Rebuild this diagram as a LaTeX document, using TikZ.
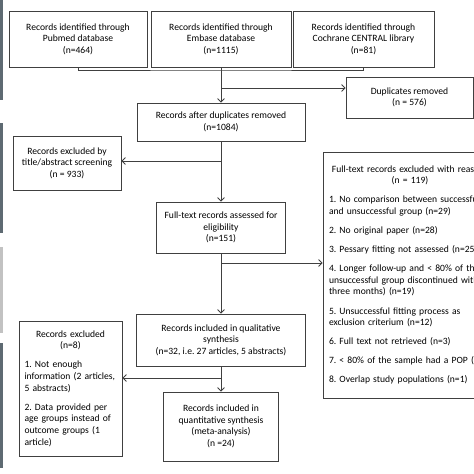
\documentclass[tikz,border=0pt]{standalone}
\usepackage{fontspec}
\setmainfont{Carlito}
\usepackage{xcolor}
\usepackage{tikz}
\usetikzlibrary{
	arrows.meta    % Per le punte delle frecce
}
\definecolor{bordo}{HTML}{404040}
\definecolor{barra}{HTML}{5E6A72}
\definecolor{barrachiara}{HTML}{C2C2C2}
\frenchspacing

\begin{document}
\begin{tikzpicture}[
	x=1pt, y=-1pt,
	blocco/.style={draw=bordo, line width=0.8pt, inner sep=2pt, align=center,
		font=\fontsize{9.6}{11.6}\selectfont},
	% Stile per i riquadri con elenco
	elenco/.style={blocco, align=left, inner xsep=6pt},
	linea/.style={draw=bordo, line width=0.8pt},
	freccia/.style={linea, -{Straight Barb[length=3.5pt,width=7pt]}}
	]
	
	% --- Area visibile ---
	\useasboundingbox (0,0) rectangle (474,474);
	\clip (0,0) rectangle (474,474);
	
	% --- Barre laterali ---
	\fill[barra] (0,0) rectangle (3,100);
	\fill[barra] (0,123) rectangle (3,233);
	\fill[barrachiara] (0,247) rectangle (3,333);
	\fill[barra] (0,343) rectangle (3,468);
	
	% --- Identificazione ---
	\node[blocco, minimum width=138, minimum height=56] (pubmed) at (78,39)
	{Records identified through\\Pubmed database\\(n=464)};
	\node[blocco, minimum width=140, minimum height=56] (embase) at (221,39)
	{Records identified through\\Embase database\\(n=1115)};
	\node[blocco, minimum width=141, minimum height=56] (cochrane) at (363.5,39)
	{Records identified through\\Cochrane CENTRAL library\\(n=81)};
	\node[blocco, minimum width=127, minimum height=41] (dupl) at (409.5,97.5)
	{Duplicates removed\\(n = 576)};
	
	% --- Screening ---
	\node[blocco, minimum width=168, minimum height=38] (afterdup) at (221,122)
	{Records after duplicates removed\\(n=1084)};
	\node[blocco, minimum width=108, minimum height=54] (exclscreen) at (67,163)
	{Records excluded by\\title/abstract screening\\(n = 933)};
	
	% --- Eleggibilita' ---
	\node[blocco, minimum width=129, minimum height=51] (fulltext) at (221,227.5)
	{Full-text records assessed for\\eligibility\\(n=151)};
	\node[elenco, text width=162, minimum height=246] (exclfull) at (410,275)
	{\setlength{\parskip}{7.5pt}%
		{\centering Full-text records excluded with reasons\\(n = 119)\par}
		1. No comparison between successful\\and unsuccessful group (n=29)\par
		2. No original paper (n=28)\par
		3. Pessary fitting not assessed (n=25)\par
		4. Longer follow-up and < 80\% of the\\unsuccessful group discontinued within\\three months) (n=19)\par
		5. Unsuccessful fitting process as\\exclusion criterium (n=12)\par
		6. Full text not retrieved (n=3)\par
		\mbox{7. < 80\% of the sample had a POP (n=2)}\par
		8. Overlap study populations (n=1)\par\vspace{6pt}};
	
	% --- Inclusione ---
	\node[blocco, minimum width=169, minimum height=52] (qual) at (221,340)
	{Records included in qualitative\\synthesis\\(n=32, i.e. 27 articles, 5 abstracts)};
	\node[elenco, text width=92, inner xsep=5.5pt, minimum height=135] (exclqual) at (70.5,388.5)
	{\setlength{\parskip}{7.5pt}%
		{\centering Records excluded\\(n=8)\par}
		1. Not enough\\information (2 articles,\\5 abstracts)\par
		2. Data provided per\\age groups instead of\\outcome groups (1\\article)};
	\node[blocco, minimum width=115, minimum height=69] (quant) at (221,426.5)
	{Records included in\\quantitative synthesis\\(meta-analysis)\\(n =24)};
	
	% --- Collegamenti ---
	\coordinate (giunto) at (221,70);
	\draw[linea] (pubmed.south) |- (giunto) -| (cochrane.south);
	\draw[freccia] (embase.south) -- (afterdup.north);
	\coordinate (dup) at (221,88);
	\draw[freccia] (dup) -- (dup -| dupl.west);
	
	\draw[freccia] (afterdup.south) -- (fulltext.north);
	\coordinate (scr) at (221,161);
	\draw[freccia] (scr) -- (scr -| exclscreen.east);
	
	\draw[freccia] (fulltext.south) -- (qual.north);
	\coordinate (ft) at (221,263);
	\draw[freccia] (ft) -- (ft -| exclfull.west);
	
	\draw[freccia] (qual.south) -- (quant.north);
	\coordinate (ql) at (221,378);
	\draw[freccia] (ql) -- (ql -| exclqual.east);
	
\end{tikzpicture}
\end{document}
